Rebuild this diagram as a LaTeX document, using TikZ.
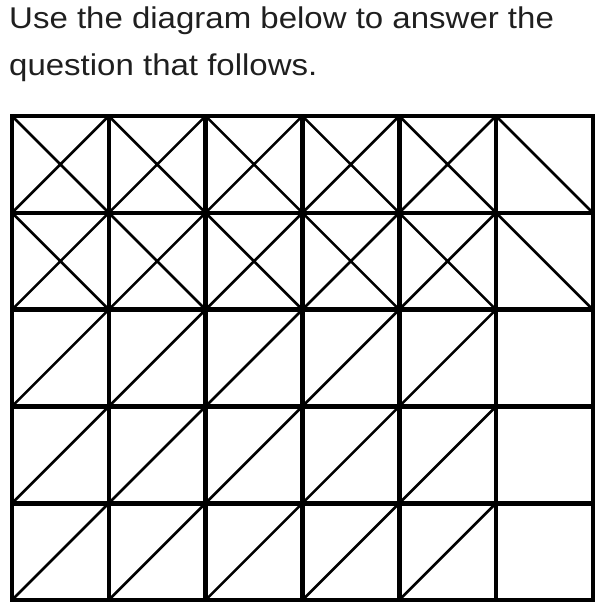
\documentclass[tikz,border=0pt]{standalone}
\usepackage{fontspec}
\setmainfont{Liberation Sans}
\usepackage{graphicx}
\newcommand{\wideline}[1]{\scalebox{1.1}[1]{#1}}

\begin{document}
\begin{tikzpicture}[x=1pt, y=-1pt,
    gridline/.style={line width=4.6pt, line cap=rect},
    diagline/.style={line width=2.6pt, line cap=round},
    crossdot/.style={fill=black},
    heading/.style={anchor=base west, inner sep=0pt, text=black!88, font=\fontsize{30}{36}\selectfont}]
    \useasboundingbox (0,0) rectangle (604,610);
    % question text
    \node [heading] (lineone) at (9,29) {\wideline{Use the diagram below to answer the}};
    \node [heading] (linetwo) at (9,75) {\wideline{question that follows.}};
    % top two rows: crossed cells, last one single diagonal
    \foreach \r in {0,1} {
        \foreach \c in {0,...,4} {
            \draw[diagline] (12+\c*96.8,116+\r*96.8) -- (12+\c*96.8+96.8,116+\r*96.8+96.8);
            \draw[diagline] (12+\c*96.8,116+\r*96.8+96.8) -- (12+\c*96.8+96.8,116+\r*96.8);
            \fill[crossdot] (12+\c*96.8+48.4,116+\r*96.8+48.4) circle (2pt);
        }
        \draw[diagline] (12+5*96.8,116+\r*96.8) -- (12+6*96.8,116+\r*96.8+96.8);
    }
    % bottom three rows: one diagonal, last cell empty
    \foreach \r in {2,3,4} {
        \foreach \c in {0,...,4} {
            \draw[diagline] (12+\c*96.8,116+\r*96.8+96.8) -- (12+\c*96.8+96.8,116+\r*96.8);
        }
    }
    % grid
    \foreach \c in {0,...,6} {
        \draw[gridline] (12+\c*96.8,116) -- (12+\c*96.8,600);
    }
    \foreach \r in {0,...,5} {
        \draw[gridline] (12,116+\r*96.8) -- (592.8,116+\r*96.8);
    }
\end{tikzpicture}
\end{document}
